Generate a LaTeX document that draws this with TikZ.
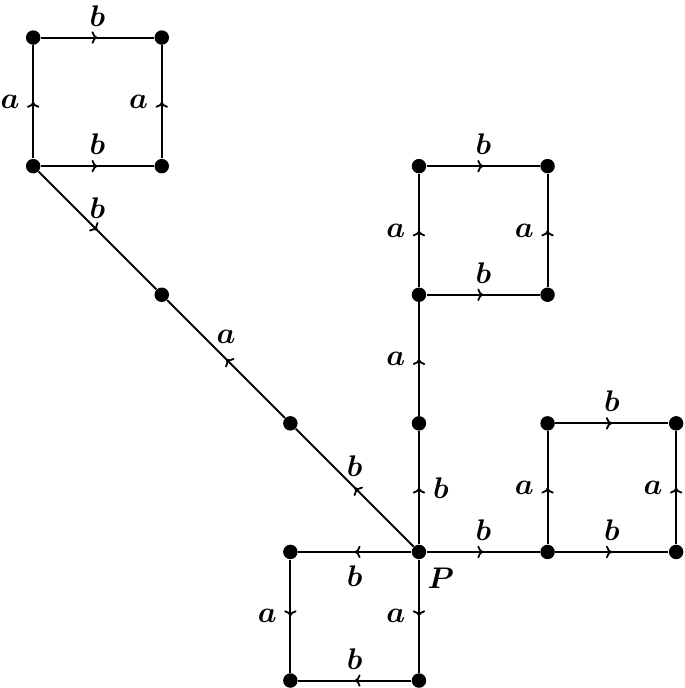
\documentclass[tikz,border=0pt]{standalone}
\usepackage{graphicx}
\usetikzlibrary{arrows.meta,decorations.markings}
\newcommand{\lbl}[1]{\scalebox{1.32}{\boldmath$#1$}}
\begin{document}
\begin{tikzpicture}[x=2cm,y=2cm,
  dot/.style={circle,fill=black,draw=none,inner sep=0pt,minimum size=6.4pt},
  edge/.style={line width=0.9pt,postaction={decorate},
    decoration={markings,mark=at position 0.5 with {\arrow{To[length=2.6pt,width=5.5pt,line width=0.8pt]}}}},
  lab/.style={midway,inner sep=0pt},
  labU/.style={lab,yshift=0.34cm},
  labD/.style={lab,yshift=-0.37cm},
  labL/.style={lab,xshift=-0.36cm},
  labR/.style={lab,xshift=0.34cm}]
\useasboundingbox (-6.516cm,-2.116cm) rectangle (4.136cm,8.584cm);
% vertices
\node[dot] (P) at (0,0) {};
\node[dot] (TL1) at (-3,4) {};
\node[dot] (TL2) at (-2,4) {};
\node[dot] (TL3) at (-3,3) {};
\node[dot] (TL4) at (-2,3) {};
\node[dot] (D1) at (-2,2) {};
\node[dot] (D2) at (-1,1) {};
\node[dot] (V1) at (0,1) {};
\node[dot] (V2) at (0,2) {};
\node[dot] (U3) at (0,3) {};
\node[dot] (U2) at (1,3) {};
\node[dot] (U4) at (1,2) {};
\node[dot] (R1) at (1,0) {};
\node[dot] (R2) at (2,0) {};
\node[dot] (R3) at (1,1) {};
\node[dot] (R4) at (2,1) {};
\node[dot] (B1) at (-1,0) {};
\node[dot] (B2) at (-1,-1) {};
\node[dot] (B3) at (0,-1) {};
\node[inner sep=0pt] (Plab) at ([xshift=0.34cm,yshift=-0.41cm]P) {\lbl{P}};
% top-left square
\draw[edge] (TL3) -- node[labL] {\lbl{a}} (TL1);
\draw[edge] (TL4) -- node[labL] {\lbl{a}} (TL2);
\draw[edge] (TL1) -- node[labU] {\lbl{b}} (TL2);
\draw[edge] (TL3) -- node[labU] {\lbl{b}} (TL4);
% diagonal
\draw[edge] (TL3) -- node[labU] {\lbl{b}} (D1);
\draw[edge] (D2) -- node[labU] {\lbl{a}} (D1);
\draw[edge] (P) -- node[labU] {\lbl{b}} (D2);
% vertical and upper square
\draw[edge] (P) -- node[labR] {\lbl{b}} (V1);
\draw[edge] (V1) -- node[labL] {\lbl{a}} (V2);
\draw[edge] (V2) -- node[labL] {\lbl{a}} (U3);
\draw[edge] (U4) -- node[labL] {\lbl{a}} (U2);
\draw[edge] (U3) -- node[labU] {\lbl{b}} (U2);
\draw[edge] (V2) -- node[labU] {\lbl{b}} (U4);
% right square
\draw[edge] (P) -- node[labU] {\lbl{b}} (R1);
\draw[edge] (R1) -- node[labL] {\lbl{a}} (R3);
\draw[edge] (R2) -- node[labL] {\lbl{a}} (R4);
\draw[edge] (R3) -- node[labU] {\lbl{b}} (R4);
\draw[edge] (R1) -- node[labU] {\lbl{b}} (R2);
% bottom square
\draw[edge] (P) -- node[labD] {\lbl{b}} (B1);
\draw[edge] (P) -- node[labL] {\lbl{a}} (B3);
\draw[edge] (B1) -- node[labL] {\lbl{a}} (B2);
\draw[edge] (B3) -- node[labU] {\lbl{b}} (B2);
\end{tikzpicture}
\end{document}
